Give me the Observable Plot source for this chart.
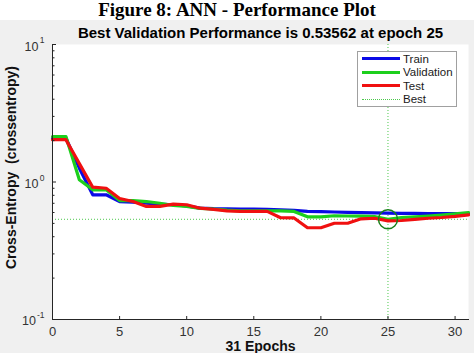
<!DOCTYPE html>
<html><head><meta charset="utf-8">
<script src="https://cdn.jsdelivr.net/npm/d3@7"></script>
<script src="https://cdn.jsdelivr.net/npm/@observablehq/plot@0.6"></script>
<style>
body{margin:0;background:#fff;width:474px;height:353px;overflow:hidden;position:relative;font-family:"Liberation Sans",Arial,sans-serif}
#title{position:absolute;left:0;top:0;width:474px;height:20px;text-align:center;font-weight:bold;font-size:19px;font-family:"Liberation Serif","Times New Roman",serif;line-height:20px;white-space:nowrap}
#fig{position:absolute;left:0;top:20px;width:474px;height:333px;background:#f0f0f0}
svg text{white-space:pre}
#legend{position:absolute;left:357px;top:51px;width:100px;height:56px;box-sizing:border-box;border:1px solid #a0a0a0;background:#fff;font-size:11.5px;color:#1a1a1a}
#legend .row{display:flex;align-items:center;height:13.5px}
#legend .sw{margin-left:4px;width:38px;height:0;margin-right:3px}
</style></head>
<body>
<div id="title"></div>
<div id="fig"></div>
<div id="legend"></div>
<script>
const figTitle = "Figure 8: ANN - Performance Plot";
const subtitle = "Best Validation Performance is 0.53562 at epoch 25";
const xLabel = "31 Epochs";
const yLabel = "Cross-Entropy  (crossentropy)";
const seriesNames = ["Train", "Validation", "Test", "Best"];
const seriesColors = ["#0a0ae6", "#1ccf1c", "#f01010", "#4cc94c"];
const epochs = [0,1,2,3,4,5,6,7,8,9,10,11,12,13,14,15,16,17,18,19,20,21,22,23,24,25,26,27,28,29,30,31];
const train = [2.08,2.08,1.26,0.807,0.807,0.721,0.713,0.701,0.690,0.683,0.671,0.645,0.640,0.639,0.636,0.634,0.632,0.628,0.622,0.612,0.608,0.605,0.602,0.599,0.596,0.594,0.592,0.591,0.590,0.589,0.589,0.590];
const validation = [2.14,2.14,1.04,0.877,0.877,0.733,0.733,0.721,0.701,0.675,0.664,0.642,0.636,0.624,0.617,0.617,0.617,0.617,0.611,0.558,0.558,0.568,0.566,0.564,0.560,0.53562,0.552,0.558,0.566,0.575,0.586,0.600];
const test = [2.03,2.03,1.36,0.917,0.901,0.759,0.721,0.664,0.664,0.690,0.683,0.645,0.632,0.617,0.611,0.611,0.611,0.550,0.548,0.465,0.465,0.501,0.501,0.540,0.545,0.522,0.525,0.535,0.545,0.552,0.562,0.577];
const bestEpoch = 25;
const bestValue = 0.53562;
const xTicks = [0,5,10,15,20,25,30];
const yMajor = [0.1,1,10];
const yMinor = [0.2,0.3,0.4,0.5,0.6,0.7,0.8,0.9,2,3,4,5,6,7,8,9];

document.getElementById("title").textContent = figTitle;

const rows = epochs.map((e,i)=>({epoch:e, train:train[i], validation:validation[i], test:test[i]}));
const W = 474, H = 333, mL = 52, mR = 6, mT = 24, mB = 34;
const pw = W - mL - mR, ph = H - mT - mB;
const axisColor = "#262626";
const font = "Liberation Sans, Arial, sans-serif";

const chart = Plot.plot({
  width: W, height: H,
  marginTop: mT, marginBottom: mB, marginLeft: mL, marginRight: mR,
  style: {background: "transparent", fontFamily: font, overflow: "visible"},
  x: {domain: [0, 31], axis: null},
  y: {type: "log", domain: [0.1, 10], axis: null},
  marks: [
    Plot.frame({fill: "white", stroke: null}),
    Plot.ruleY([bestValue], {stroke: seriesColors[3], strokeWidth: 1, strokeDasharray: "1,2"}),
    Plot.ruleX([bestEpoch], {stroke: seriesColors[3], strokeWidth: 1, strokeDasharray: "1,2"}),
    Plot.line(rows, {x: "epoch", y: "train", stroke: seriesColors[0], strokeWidth: 3.2}),
    Plot.line(rows, {x: "epoch", y: "validation", stroke: seriesColors[1], strokeWidth: 3.2}),
    Plot.line(rows, {x: "epoch", y: "test", stroke: seriesColors[2], strokeWidth: 3.2}),
    Plot.dot([{e: bestEpoch, v: bestValue}], {x: "e", y: "v", r: 9.5, stroke: "#1a7f1a", strokeWidth: 1.5, fill: "none"}),
    Plot.frame({anchor: "left", stroke: axisColor}),
    Plot.frame({anchor: "bottom", stroke: axisColor}),
    Plot.tickX(xTicks, {x: d => d, stroke: axisColor, insetTop: ph - 3}),
    Plot.tickY(yMajor, {y: d => d, stroke: axisColor, insetRight: pw - 4}),
    Plot.tickY(yMinor, {y: d => d, stroke: axisColor, insetRight: pw - 2.5}),
    Plot.text(xTicks, {x: d => d, frameAnchor: "bottom", lineAnchor: "middle", textAnchor: "middle", dy: 12, text: d => String(d), fontSize: 13, fill: "#333"}),
    Plot.text(yMajor.filter(d => d >= 1), {y: d => d, frameAnchor: "left", textAnchor: "end", lineAnchor: "middle", dx: -14, dy: 2, text: () => "10", fontSize: 12.5, fill: "#333"}),
    Plot.text(yMajor.filter(d => d < 1), {y: d => d, frameAnchor: "left", textAnchor: "end", lineAnchor: "middle", dx: -16.5, dy: 1, text: () => "10", fontSize: 12.5, fill: "#333"}),
    Plot.text(yMajor, {y: d => d, frameAnchor: "left", textAnchor: "end", lineAnchor: "middle", dx: -8, dy: -4, text: d => String(Math.round(Math.log10(d))), fontSize: 8.5, fill: "#333"}),
    Plot.text([subtitle], {frameAnchor: "top", textAnchor: "middle", lineAnchor: "middle", dy: -11.5, fontWeight: "bold", fontSize: 15, fill: "#000"}),
    Plot.text([xLabel], {frameAnchor: "bottom", textAnchor: "middle", lineAnchor: "middle", dy: 27.5, fontWeight: "bold", fontSize: 14, fill: "#111"}),
    Plot.text([yLabel], {frameAnchor: "left", textAnchor: "middle", lineAnchor: "middle", rotate: -90, dx: -41, dy: -14.5, fontWeight: "bold", fontSize: 14, fill: "#111"})
  ]
});
document.getElementById("fig").appendChild(chart);

const leg = document.getElementById("legend");
seriesNames.forEach((name, i) => {
  const row = document.createElement("div");
  row.className = "row";
  const sw = document.createElement("div");
  sw.className = "sw";
  sw.style.borderTop = i < 3 ? `3px solid ${seriesColors[i]}` : `1px dotted ${seriesColors[i]}`;
  const t = document.createElement("span");
  t.textContent = name;
  row.appendChild(sw); row.appendChild(t);
  leg.appendChild(row);
});
</script>
</body></html>
